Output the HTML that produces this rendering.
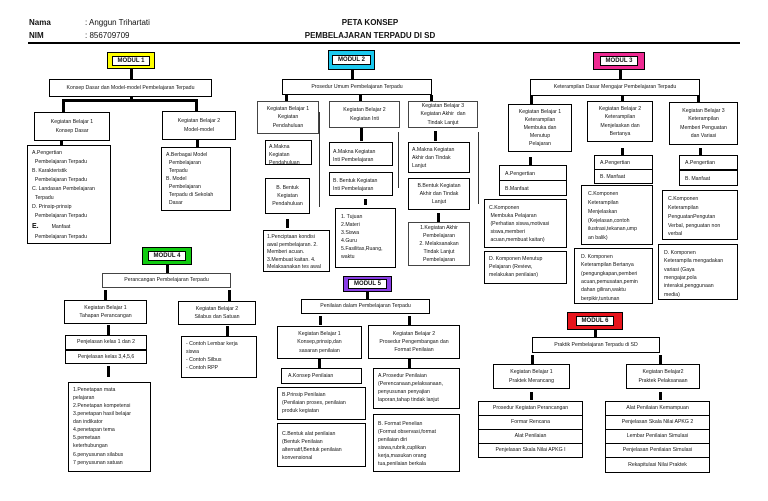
<!DOCTYPE html>
<html><head><meta charset="utf-8"><style>
*{box-sizing:border-box;margin:0;padding:0}
body{width:768px;height:501px;background:#fff;position:relative;overflow:hidden;font-family:"Liberation Sans",sans-serif;color:#111}
.b{position:absolute;border:1.6px solid #000;background:#fff;font-size:5.2px;line-height:1.55;text-align:center;display:flex;align-items:center;justify-content:center;padding:1px 2px}
.t{border:1px solid #444}
.l{text-align:left;justify-content:flex-start;align-items:flex-start;padding:3px 4px;display:block}
.m{position:absolute;border:1.6px solid #000;display:flex;align-items:center;justify-content:center;font-size:6px;font-weight:bold}
.m span{background:#fff;padding:1px 5px;border:0.5px solid #000}
.v{position:absolute;width:3px;background:#000}
.h{position:absolute;height:2.5px;background:#000}
.tl{position:absolute;width:1px;background:#333}
.hd{position:absolute;font-size:8px;font-weight:bold}
</style></head><body>
<div class="hd" style="left:29px;top:18px">Nama</div>
<div class="hd" style="left:85px;top:18px;font-weight:normal">: Anggun Trihartati</div>
<div class="hd" style="left:29px;top:31px">NIM</div>
<div class="hd" style="left:85px;top:31px;font-weight:normal">: 856709709</div>
<div class="hd" style="left:300px;top:18px;width:140px;text-align:center">PETA KONSEP</div>
<div class="hd" style="left:290px;top:31px;width:160px;text-align:center">PEMBELAJARAN TERPADU DI SD</div>
<div class="h" style="left:28px;top:42px;width:712px;height:2px"></div>

<!-- MODUL 1 -->
<div class="m" style="left:107px;top:52px;width:48px;height:17px;background:#ff0"><span>MODUL 1</span></div>
<div class="v" style="left:130px;top:69px;height:10px"></div>
<div class="b" style="left:49px;top:79px;width:163px;height:18px">Konsep Dasar dan Model-model Pembelajaran Terpadu</div>
<div class="v" style="left:130px;top:97px;height:4px"></div>
<div class="h" style="left:62px;top:99px;width:136px"></div>
<div class="v" style="left:62px;top:99px;height:13px"></div>
<div class="v" style="left:195px;top:99px;height:12px"></div>
<div class="b" style="left:34px;top:112px;width:76px;height:29px">Kegiatan Belajar 1<br>Konsep Dasar</div>
<div class="b" style="left:162px;top:111px;width:74px;height:29px">Kegiatan Belajar 2<br>Model-model</div>
<div class="v" style="left:60px;top:141px;height:4px"></div>
<div class="v" style="left:196px;top:140px;height:7px"></div>
<div class="b l" style="left:27px;top:145px;width:84px;height:99px;line-height:1.72">A.Pengertian<br>&nbsp;&nbsp;Pembelajaran Terpadu<br>B. Karakteristik<br>&nbsp;&nbsp;Pembelajaran Terpadu<br>C. Landasan Pembelajaran<br>&nbsp;&nbsp;Terpadu<br>D. Prinsip-prinsip<br>&nbsp;&nbsp;Pembelajaran Terpadu<br><b style="font-size:7px">E.</b>&nbsp;&nbsp;&nbsp;&nbsp;&nbsp;&nbsp;&nbsp;&nbsp;&nbsp;Manfaat<br>&nbsp;&nbsp;Pembelajaran Terpadu</div>
<div class="b l" style="left:161px;top:147px;width:70px;height:64px">A.Berbagai Model<br>&nbsp;&nbsp;Pembelajaran<br>&nbsp;&nbsp;Terpadu<br>B. Model<br>&nbsp;&nbsp;Pembelajaran<br>&nbsp;&nbsp;Terpadu di Sekolah<br>&nbsp;&nbsp;Dasar</div>

<!-- MODUL 4 -->
<div class="m" style="left:142px;top:247px;width:50px;height:18px;background:#1c1"><span>MODUL 4</span></div>
<div class="v" style="left:166px;top:265px;height:8px"></div>
<div class="b t" style="left:102px;top:273px;width:129px;height:15px">Perancangan Pembelajaran Terpadu</div>
<div class="v" style="left:104px;top:290px;height:10px"></div>
<div class="v" style="left:228px;top:290px;height:11px"></div>
<div class="b" style="left:64px;top:300px;width:83px;height:24px">Kegiatan Belajar 1<br>Tahapan Perancangan</div>
<div class="b" style="left:178px;top:301px;width:78px;height:24px">Kegiatan Belajar 2<br>Silabus dan Satuan</div>
<div class="v" style="left:107px;top:325px;height:10px"></div>
<div class="v" style="left:226px;top:326px;height:10px"></div>
<div class="b" style="left:65px;top:335px;width:82px;height:15px">Penjelasan kelas 1 dan 2</div>
<div class="b" style="left:65px;top:350px;width:82px;height:14px">Penjelasan kelas 3,4,5,6</div>
<div class="v" style="left:107px;top:366px;height:11px"></div>
<div class="b l" style="left:68px;top:382px;width:83px;height:90px;line-height:1.55">1.Penetapan mata<br>pelajaran<br>2.Penetapan kompetensi<br>3.penetapan hasil belajar<br>dan indikator<br>4.penetapan tema<br>5.pemetaan<br>keterhubungan<br>6.penyusunan silabus<br>7 penyusunan satuan</div>
<div class="b l" style="left:181px;top:336px;width:76px;height:42px">- Contoh Lembar kerja<br>siswa<br>- Contoh Silbus<br>- Contoh RPP</div>

<!-- MODUL 2 -->
<div class="m" style="left:328px;top:50px;width:47px;height:20px;background:#1ac8ee"><span>MODUL 2</span></div>
<div class="v" style="left:351px;top:70px;height:9px"></div>
<div class="b" style="left:282px;top:79px;width:150px;height:16px">Prosedur Umum Pembelajaran Terpadu</div>
<div class="v" style="left:285px;top:95px;height:6px"></div>
<div class="v" style="left:359px;top:95px;height:6px"></div>
<div class="v" style="left:430px;top:95px;height:6px"></div>
<div class="b t" style="left:257px;top:101px;width:62px;height:33px">Kegiatan Belajar 1<br>Kegiatan<br>Pendahuluan</div>
<div class="b t" style="left:329px;top:101px;width:71px;height:27px">Kegiatan Belajar 2<br>Kegiatan Inti</div>
<div class="b t" style="left:408px;top:101px;width:70px;height:27px">Kegiatan Belajar 3<br>Kegiatan Akhir &nbsp;dan<br>Tindak Lanjut</div>
<div class="tl" style="left:319px;top:112px;height:95px"></div>
<div class="tl" style="left:398px;top:132px;height:56px"></div>
<div class="tl" style="left:478px;top:132px;height:72px"></div>
<div class="b l" style="left:265px;top:140px;width:47px;height:25px;padding:2px 3px">A.Makna<br>Kegiatan<br>Pendahuluan</div>
<div class="b" style="left:265px;top:178px;width:45px;height:36px">B. Bentuk<br>Kegiatan<br>Pendahuluan</div>
<div class="v" style="left:286px;top:219px;height:9px"></div>
<div class="b l" style="left:263px;top:230px;width:67px;height:42px;line-height:1.45;padding:3px 3px">1.Penciptaan kondisi awal pembelajaran. 2. Memberi acuan. 3.Membuat kaitan. 4. Melaksanakan tes awal</div>
<div class="v" style="left:360px;top:128px;height:13px"></div>
<div class="b l" style="left:329px;top:142px;width:64px;height:24px;padding:5px 3px">A.Makna Kegiatan<br>Inti Pembelajaran</div>
<div class="b l" style="left:329px;top:172px;width:64px;height:24px;padding:4px 3px">B. Bentuk Kegiatan<br>Inti Pembelajaran</div>
<div class="v" style="left:364px;top:199px;height:6px"></div>
<div class="b l" style="left:335px;top:208px;width:61px;height:60px;padding:4px 5px">1. Tujuan<br>2.Materi<br>3.Siswa<br>4.Guru<br>5.Fasilitas,Ruang,<br>waktu</div>
<div class="v" style="left:434px;top:131px;height:10px"></div>
<div class="b l" style="left:408px;top:142px;width:62px;height:31px;padding:3px 3px">A.Makna Kegiatan<br>Akhir dan Tindak<br>Lanjut</div>
<div class="b" style="left:408px;top:178px;width:62px;height:32px">B.Bentuk Kegiatan<br>Akhir dan Tindak<br>Lanjut</div>
<div class="v" style="left:437px;top:213px;height:9px"></div>
<div class="b t" style="left:408px;top:222px;width:62px;height:44px">1.Kegiatan Akhir<br>Pembelajaran<br>2. Melaksanakan<br>Tindak Lanjut<br>Pembelajaran</div>

<!-- MODUL 3 -->
<div class="m" style="left:593px;top:52px;width:52px;height:18px;background:#ee2a92"><span>MODUL 3</span></div>
<div class="v" style="left:619px;top:70px;height:9px"></div>
<div class="b" style="left:530px;top:79px;width:170px;height:17px">Keterampilan Dasar Mengajar Pembelajaran Terpadu</div>
<div class="v" style="left:530px;top:96px;height:8px"></div>
<div class="v" style="left:621px;top:96px;height:5px"></div>
<div class="v" style="left:697px;top:96px;height:6px"></div>
<div class="b" style="left:508px;top:104px;width:64px;height:48px">Kegiatan Belajar 1<br>Keterampilan<br>Membuka dan<br>Menutup<br>Pelajaran</div>
<div class="b" style="left:587px;top:101px;width:66px;height:41px">Kegiatan Belajar 2<br>Keterampilan<br>Menjelaskan dan<br>Bertanya</div>
<div class="b" style="left:669px;top:102px;width:69px;height:43px">Kegiatan Belajar 3<br>Keterampilan<br>Memberi Penguatan<br>dan Variasi</div>
<div class="v" style="left:529px;top:157px;height:8px"></div>
<div class="v" style="left:621px;top:148px;height:7px"></div>
<div class="v" style="left:699px;top:148px;height:7px"></div>
<div class="b l" style="left:499px;top:165px;width:68px;height:16px;padding:4px 5px">A.Pengertian</div>
<div class="b l" style="left:499px;top:180px;width:68px;height:16px;padding:4px 5px">B.Manfaat</div>
<div class="b l" style="left:484px;top:199px;width:83px;height:49px;padding:4px 4px">C.Komponen<br>&nbsp;Membuka Pelajaran<br>&nbsp;(Perhatian siswa,motivasi<br>&nbsp;siswa,memberi<br>&nbsp;acuan,membuat kaitan)</div>
<div class="b l" style="left:484px;top:251px;width:83px;height:33px">D. Komponen Menutup<br>Pelajaran (Review,<br>melakukan penilaian)</div>
<div class="b l" style="left:594px;top:155px;width:59px;height:15px;padding:3px 5px">A.Pengertian</div>
<div class="b l" style="left:594px;top:169px;width:59px;height:15px;padding:3px 5px">B. Manfaat</div>
<div class="b l" style="left:581px;top:185px;width:72px;height:60px;padding:4px 6px;line-height:1.7">C.Komponen<br>Keterampilan<br>Menjelaskan<br>(Kejelasan,contoh<br>ilustrasi,tekanan,ump<br>an balik)</div>
<div class="b l" style="left:574px;top:248px;width:79px;height:56px;padding:4px 6px;line-height:1.6">D. Komponen<br>Keterampilan Bertanya<br>(pengungkapan,pemberi<br>acuan,pemusatan,pemin<br>dahan giliran,waktu<br>berpikir,tuntunan</div>
<div class="b l" style="left:679px;top:155px;width:59px;height:15px;padding:3px 5px">A.Pengertian</div>
<div class="b l" style="left:679px;top:170px;width:59px;height:16px;padding:4px 5px">B. Manfaat</div>
<div class="b l" style="left:662px;top:190px;width:76px;height:50px;padding:4px 5px;line-height:1.7">C.Komponen<br>Keterampilan<br>PenguatanPengutan<br>Verbal, penguatan non<br>verbal</div>
<div class="b l" style="left:658px;top:244px;width:80px;height:56px;padding:4px 5px;line-height:1.6">D. Komponen<br>Keterampila mengadakan<br>variasi (Gaya<br>mengajar,pola<br>interaksi,penggunaan<br>media)</div>

<!-- MODUL 5 -->
<div class="m" style="left:343px;top:276px;width:49px;height:16px;background:#8a3ee6"><span>MODUL 5</span></div>
<div class="v" style="left:366px;top:292px;height:7px"></div>
<div class="b" style="left:301px;top:299px;width:129px;height:15px">Penilaian dalam Pembelajaran Terpadu</div>
<div class="v" style="left:319px;top:316px;height:9px"></div>
<div class="v" style="left:408px;top:316px;height:9px"></div>
<div class="b" style="left:277px;top:326px;width:85px;height:33px">Kegiatan Belajar 1<br>Konsep,prinsip,dan<br>sasaran penilaian</div>
<div class="b" style="left:368px;top:325px;width:92px;height:34px">Kegiatan Belajar 2<br>Prosedur Pengembangan dan<br>Format Penilaian</div>
<div class="v" style="left:318px;top:359px;height:9px"></div>
<div class="v" style="left:408px;top:359px;height:9px"></div>
<div class="b l" style="left:281px;top:368px;width:81px;height:16px;padding:3px 6px">A.Konsep Penilaian</div>
<div class="b l" style="left:277px;top:387px;width:89px;height:33px">B.Prinsip Penilaian<br>(Penilaian proses, penilaian<br>produk kegiatan</div>
<div class="b l" style="left:277px;top:423px;width:89px;height:44px;padding:6px 4px">C.Bentuk alat penilaian<br>(Bentuk Penilaian<br>alternatif,Bentuk penilaian<br>konvensional</div>
<div class="b l" style="left:373px;top:368px;width:87px;height:41px">A.Prosedur Penilaian<br>(Perencanaan,pelaksanaan,<br>penyusunan penyajian<br>laporan,tahap tindak lanjut</div>
<div class="b l" style="left:373px;top:414px;width:87px;height:58px;padding:5px 4px">B. Format Penelian<br>(Format observasi,format<br>penilaian diri<br>siswa,rubrik,cuplikan<br>kerja,masukan orang<br>tua,penilaian berkala</div>

<!-- MODUL 6 -->
<div class="m" style="left:567px;top:312px;width:56px;height:18px;background:#e8141c"><span>MODUL 6</span></div>
<div class="v" style="left:594px;top:330px;height:7px"></div>
<div class="b" style="left:532px;top:337px;width:128px;height:16px">Praktik Pembelajaran Terpadu di SD</div>
<div class="v" style="left:531px;top:355px;height:9px"></div>
<div class="v" style="left:659px;top:355px;height:9px"></div>
<div class="b" style="left:493px;top:364px;width:77px;height:25px">Kegiatan Belajar 1<br>Praktek Merancang</div>
<div class="b" style="left:626px;top:364px;width:74px;height:25px">Kegiatan Belajar2<br>Praktek Pelaksanaan</div>
<div class="v" style="left:530px;top:392px;height:8px"></div>
<div class="v" style="left:659px;top:392px;height:8px"></div>
<div class="b" style="left:478px;top:401px;width:105px;height:15px">Prosedur Kegiatan Perancangan</div>
<div class="b" style="left:478px;top:415px;width:105px;height:15px">Formar Rencana</div>
<div class="b" style="left:478px;top:429px;width:105px;height:15px">Alat Penilaian</div>
<div class="b" style="left:478px;top:443px;width:105px;height:15px">Penjelasan Skala Nilai APKG I</div>
<div class="b" style="left:605px;top:401px;width:105px;height:15px">Alat Penilaian Kemampuan</div>
<div class="b" style="left:605px;top:415px;width:105px;height:15px">Penjelasan Skala Nilai APKG 2</div>
<div class="b" style="left:605px;top:429px;width:105px;height:15px">Lembar Penilaian Simulasi</div>
<div class="b" style="left:605px;top:443px;width:105px;height:15px">Penjelasan Penilaian Simulasi</div>
<div class="b" style="left:605px;top:457px;width:105px;height:16px">Rekapitulasi Nilai Praktek</div>
</body></html>
